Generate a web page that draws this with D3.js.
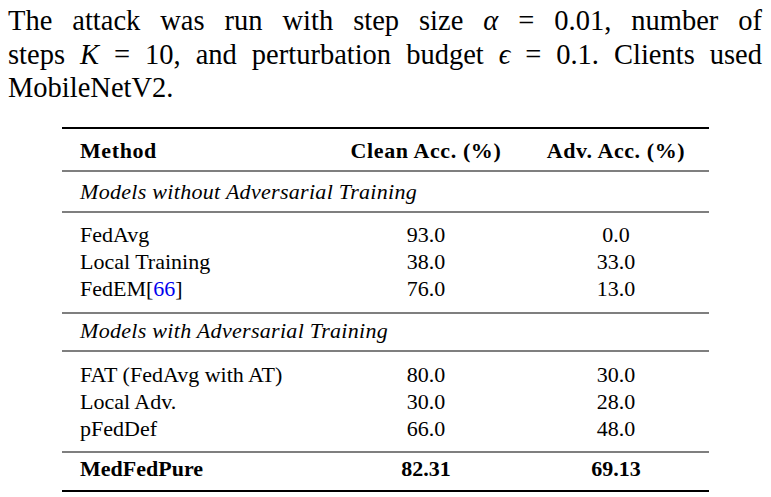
<!DOCTYPE html>
<html><head><meta charset="utf-8">
<script src="https://cdn.jsdelivr.net/npm/d3@7"></script>
<style>body{margin:0;background:#fff}text{font-family:"Times New Roman","Liberation Serif",serif;fill:#000}</style>
</head><body>
<svg id="c" width="771" height="497"></svg>
<script>
// paragraph lines: each token is [text, italic]
const paraLines = [
  [["The"],["attack"],["was"],["run"],["with"],["step"],["size"],["α",1],["="],["0.01,"],["number"],["of"]],
  [["steps"],["K",1],["="],["10,"],["and"],["perturbation"],["budget"],["ϵ",1],["="],["0.1."],["Clients"],["used"]],
  [["MobileNetV2."]]
];
const headers = ["Method", "Clean Acc. (%)", "Adv. Acc. (%)"];
const sections = ["Models without Adversarial Training", "Models with Adversarial Training"];
const methods1 = ["FedAvg", "Local Training", "FedEM"];
const clean1 = ["93.0", "38.0", "76.0"];
const adv1 = ["0.0", "33.0", "13.0"];
const methods2 = ["FAT (FedAvg with AT)", "Local Adv.", "pFedDef"];
const clean2 = ["80.0", "30.0", "66.0"];
const adv2 = ["30.0", "28.0", "48.0"];
const ours = ["MedFedPure", "82.31", "69.13"];

const svg = d3.select("#c");

// justified paragraph
const paraX = [8, 762], paraY = [30, 64, 97];
paraLines.forEach((line, li) => {
  const g = svg.append("g");
  const ws = line.map(t => g.append("text").attr("y", paraY[li]).style("font-size", "28.5px")
    .style("font-style", t[1] ? "italic" : "normal").text(t[0]));
  const widths = ws.map(w => w.node().getComputedTextLength());
  const total = d3.sum(widths);
  const justify = li < paraLines.length - 1;
  const gap = justify ? (paraX[1] - paraX[0] - total) / (line.length - 1) : 7;
  let x = paraX[0];
  ws.forEach((w, i) => { w.attr("x", x); x += widths[i] + gap; });
});

// table
const x0 = 62, x1 = 709;
const colX = [80, 426, 616];
const fs = "22px";
const rule = (y, w) => svg.append("line").attr("x1", x0).attr("x2", x1).attr("y1", y).attr("y2", y)
  .attr("stroke", "#000").attr("stroke-width", w);

rule(128, 2.2);
headers.forEach((h, i) => svg.append("text").attr("x", colX[i]).attr("y", 158)
  .attr("text-anchor", i ? "middle" : "start").style("font-weight", "bold").style("font-size", "22px")
  .style("letter-spacing", "0.6px").text(h));
rule(171, 1.2);

const row = d3.scaleLinear().domain([0, 1]).range([0, 27]);
function block(title, ty, ry, m, c, a, cite) {
  svg.append("text").attr("x", colX[0]).attr("y", ty).style("font-style", "italic").style("font-size", fs)
    .style("letter-spacing", "0.3px").text(title);
  rule(ty + 13, 1.2);
  m.forEach((name, i) => {
    const y = ry + row(i);
    const t = svg.append("text").attr("x", colX[0]).attr("y", y).style("font-size", fs).text(name);
    if (cite && i === m.length - 1) {
      t.append("tspan").text("[");
      t.append("tspan").style("fill", "#0000ee").text("66");
      t.append("tspan").text("]");
    }
    svg.append("text").attr("x", colX[1]).attr("y", y).attr("text-anchor", "middle").style("font-size", fs).text(c[i]);
    svg.append("text").attr("x", colX[2]).attr("y", y).attr("text-anchor", "middle").style("font-size", fs).text(a[i]);
  });
}
block(sections[0], 199, 242, methods1, clean1, adv1, true);
rule(313, 1.2);
block(sections[1], 338, 382, methods2, clean2, adv2, false);
rule(452, 1.2);
ours.forEach((v, i) => svg.append("text").attr("x", colX[i]).attr("y", 476)
  .attr("text-anchor", i ? "middle" : "start").style("font-weight", "bold").style("font-size", fs).text(v));
rule(491, 2.2);
</script>
</body></html>
